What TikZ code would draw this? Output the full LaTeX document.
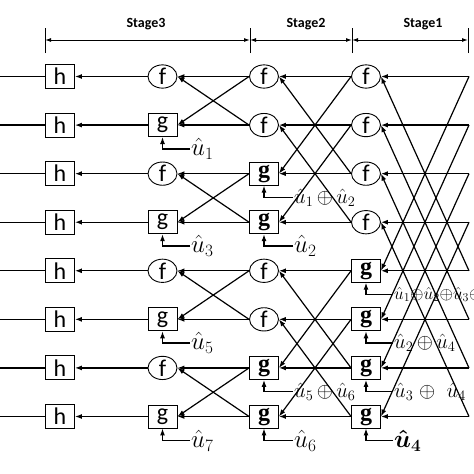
\documentclass[tikz,border=0pt]{standalone}
\usepackage{amsmath}
\usepackage{fontspec}
\setmainfont{Liberation Serif}
\setsansfont{Carlito}
\usetikzlibrary{arrows.meta,shapes.geometric}
\begin{document}
\begin{tikzpicture}[x=1pt,y=-1pt,
  conn/.style={line width=1.2pt,-{Latex[length=7pt,width=5pt]}},
  plain/.style={line width=1.2pt},
  hdr/.style={line width=1pt,{Latex[length=6pt,width=4pt]}-{Latex[length=6pt,width=4pt]}},
  f-nd/.style={ellipse,draw,line width=0.9pt,minimum width=29pt,minimum height=23pt,inner sep=0pt,font=\sffamily\fontsize{24}{24}\selectfont},
  g-nd/.style={rectangle,draw,line width=0.9pt,minimum width=29pt,minimum height=23pt,inner sep=0pt,font=\sffamily\fontsize{24}{24}\selectfont},
  gs-nd/.style={rectangle,draw,line width=0.9pt,minimum width=29pt,minimum height=23pt,inner sep=0pt,font=\bfseries\fontsize{24}{24}\selectfont},
  h-nd/.style={rectangle,draw,line width=0.9pt,minimum width=29pt,minimum height=24pt,inner sep=0pt,font=\sffamily\fontsize{24}{24}\selectfont},
  lab/.style={anchor=west,inner sep=1pt,font=\fontsize{23}{25}\selectfont},
  labm/.style={anchor=west,inner sep=1pt,font=\fontsize{20}{22}\selectfont},
  labs/.style={anchor=west,inner sep=1pt,font=\fontsize{18}{20}\selectfont},
  stg/.style={font=\sffamily\bfseries\fontsize{14}{15}\selectfont}
]
\useasboundingbox (0,0) rectangle (474,474);
% header
\coordinate (t0) at (45,40);
\coordinate (t1) at (250,40);
\coordinate (t2) at (352,40);
\coordinate (t3) at (468,40);
\foreach \c in {t0,t1,t2,t3} \draw[line width=1pt] ([yshift=-13pt]\c) -- ([yshift=12pt]\c);
\draw[hdr] (t0) -- (t1);
\draw[hdr] (t1) -- (t2);
\draw[hdr] (t2) -- (t3);
\node[stg] (st3) at (146,24) {Stage3};
\node[stg] (st2) at (306,24) {Stage2};
\node[stg] (st1) at (423,24) {Stage1};
% rows
\foreach \i in {1,...,8}{
  \coordinate (in-\i) at (469,{76.5+48.57*(\i-1)});
  \coordinate (out-\i) at (0,{76.5+48.57*(\i-1)});
  \node[h-nd] (h-\i) at (60,{76.5+48.57*(\i-1)}) {h};
}
% stage 1
\foreach \i/\t/\x in {1/f/f,2/f/f,3/f/f,4/f/f,5/gs/g,6/gs/g,7/gs/g,8/gs/g}
  \node[\t-nd] (s1-\i) at (366,{76.5+48.57*(\i-1)}) {\x};
% stage 2
\foreach \i/\t/\x in {1/f/f,2/f/f,3/gs/g,4/gs/g,5/f/f,6/f/f,7/gs/g,8/gs/g}
  \node[\t-nd] (s2-\i) at (264,{76.5+48.57*(\i-1)}) {\x};
% stage 3
\foreach \i/\t in {1/f,2/g,3/f,4/g,5/f,6/g,7/f,8/g}
  \node[\t-nd] (s3-\i) at (162.5,{76.5+48.57*(\i-1)}) {\t};
% stage 1 connections
\foreach \i in {1,...,8} \draw[conn] (in-\i) -- (s1-\i.east);
\foreach \i/\j in {1/5,2/6,3/7,4/8}{
  \draw[conn] (in-\j) -- (s1-\i.east);
  \draw[conn] (in-\i) -- (s1-\j.east);
}
% stage 2 connections
\foreach \i in {1,...,8} \draw[conn] (s1-\i.west) -- (s2-\i.east);
\foreach \i/\j in {1/3,2/4,5/7,6/8}{
  \draw[conn] (s1-\j.west) -- (s2-\i.east);
  \draw[conn] (s1-\i.west) -- (s2-\j.east);
}
% stage 3 connections
\foreach \i in {1,...,8} \draw[conn] (s2-\i.west) -- (s3-\i.east);
\foreach \i/\j in {1/2,3/4,5/6,7/8}{
  \draw[conn] (s2-\j.west) -- (s3-\i.east);
  \draw[conn] (s2-\i.west) -- (s3-\j.east);
}
% h
\foreach \i in {1,...,8}{
  \draw[conn] (s3-\i.west) -- (h-\i.east);
  \draw[plain] (h-\i.west) -- (out-\i);
}
% labels stage 3
\node[lab] (l3-2) at (190,149) {$\hat{u}_1$};
\node[lab] (l3-4) at (190,246) {$\hat{u}_3$};
\node[lab] (l3-6) at (190,343) {$\hat{u}_5$};
\node[lab] (l3-8) at (190,440.5) {$\hat{u}_7$};
% labels stage 2
\node[labm] (l2-3) at (293,197.5) {$\hat{u}_1\,{\oplus}\,\hat{u}_2$};
\node[lab] (l2-4) at (293,246) {$\hat{u}_2$};
\node[labm] (l2-7) at (293,391.5) {$\hat{u}_5\,{\oplus}\,\hat{u}_6$};
\node[lab] (l2-8) at (293,440.5) {$\hat{u}_6$};
% labels stage 1
\node[labs] (l1-5) at (393,294.5) {$\hat{u}_1{\oplus}\hat{u}_2{\oplus}\hat{u}_3{\oplus}\hat{u}_4$};
\node[labm] (l1-6) at (393,343) {$\hat{u}_2\,{\oplus}\,\hat{u}_4$};
\node[labm] (l1-7) at (393,391.5) {$\hat{u}_3\;{\oplus}\;\;\hat{u}_4$};
\node[lab,font=\fontsize{24}{26}\selectfont] (l1-8) at (393,440.5) {$\boldsymbol{\hat{u}_4}$};
\foreach \s/\i in {3/2,3/4,3/6,3/8,2/3,2/4,2/7,2/8,1/5,1/6,1/7,1/8}
  \draw[conn] (l\s-\i.west) -| (s\s-\i.south);
\end{tikzpicture}
\end{document}
